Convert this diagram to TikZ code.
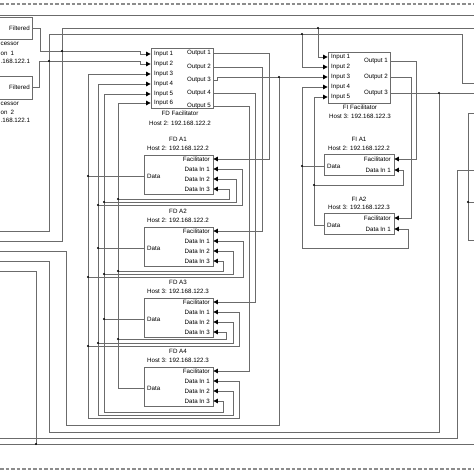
\documentclass[tikz,border=0pt]{standalone}
\usepackage{fontspec}
\setmainfont{Liberation Sans}
\usetikzlibrary{arrows.meta}
\definecolor{wirec}{gray}{0.42}
\definecolor{dashc}{gray}{0.55}
\begin{document}
\begin{tikzpicture}[x=1pt,y=-1pt,
  wire/.style={draw=wirec, line width=0.8pt},
  arr/.style={draw=wirec, line width=0.8pt, -{Triangle[length=4.5pt,width=4.5pt,color=black]}},
  box/.style={draw=wirec, line width=0.8pt, fill=white, inner sep=0pt},
  lbl/.style={font=\fontsize{6.2}{7}\selectfont, inner sep=0pt},
  jdot/.style={circle, fill=black, inner sep=0pt, minimum size=2.2pt},
  dashline/.style={draw=dashc, line width=1.2pt, dash pattern=on 3.5pt off 2pt},
]
\useasboundingbox (0,0) rectangle (474,474);
\fill[white] (0,0) rectangle (474,474);

% dashed borders
\draw[dashline] (0,4) -- (474,4);
\draw[dashline] (0,469) -- (474,469);

% ---------- boxes ----------
\node[box, minimum width=40pt, minimum height=22pt] (p1) at (12,28) {};
\node[box, minimum width=40pt, minimum height=23pt] (p2) at (12,87.5) {};
\node[box, minimum width=62pt, minimum height=60pt] (fd) at (182,78) {};
\node[box, minimum width=69pt, minimum height=39pt] (a1) at (178.5,174.5) {};
\node[box, minimum width=69pt, minimum height=39pt] (a2) at (178.5,246.5) {};
\node[box, minimum width=69pt, minimum height=39pt] (a3) at (178.5,317.5) {};
\node[box, minimum width=69pt, minimum height=39pt] (a4) at (178.5,386.5) {};
\node[box, minimum width=62pt, minimum height=51pt] (fi) at (359,77.5) {};
\node[box, minimum width=70pt, minimum height=21pt] (b1) at (359,164.5) {};
\node[box, minimum width=70pt, minimum height=21pt] (b2) at (359,223.5) {};

% ---------- box texts ----------
\node[lbl, anchor=east] at (30,28) {Filtered};
\node[lbl, anchor=east] at (30,87) {Filtered};
\node[lbl, anchor=west] at (0.5,44) {cessor};
\node[lbl, anchor=west] at (0.5,53) {on\hspace{3pt}1};
\node[lbl, anchor=west] at (0.5,61) {.168.122.1};
\node[lbl, anchor=west] at (0.5,104) {cessor};
\node[lbl, anchor=west] at (0.5,112) {on\hspace{3pt}2};
\node[lbl, anchor=west] at (0.5,120) {.168.122.1};

\foreach \i/\y in {1/54,2/64,3/74,4/84,5/94,6/103}
  \node[lbl, anchor=west] at (154,\y) {Input \i};
\foreach \i/\y in {1/53,2/67,3/80,4/93,5/106}
  \node[lbl, anchor=east] at (211,\y) {Output \i};
\node[lbl] at (180,113) {FD Facilitator};
\node[lbl] at (180,123) {Host 2: 192.168.122.2};

\foreach \nm/\t/\h in {A1/155/2, A2/227/2, A3/298/3, A4/367/3}{
  \node[lbl] at (178,\t-16) {FD \nm};
  \node[lbl] at (178,\t-7) {Host \h: 192.168.122.\h};
  \node[lbl, anchor=east] at (210,\t+4) {Facilitator};
  \node[lbl, anchor=east] at (210,\t+14) {Data In 1};
  \node[lbl, anchor=east] at (210,\t+24) {Data In 2};
  \node[lbl, anchor=east] at (210,\t+34) {Data In 3};
  \node[lbl, anchor=west] at (147,\t+21) {Data};
}

\foreach \i/\y in {1/57,2/67,3/77,4/87,5/97}
  \node[lbl, anchor=west] at (331,\y) {Input \i};
\foreach \i/\y in {1/61,2/77,3/93}
  \node[lbl, anchor=east] at (388,\y) {Output \i};
\node[lbl] at (360,107) {FI Facilitator};
\node[lbl] at (360,116) {Host 3: 192.168.122.3};

\node[lbl] at (359,139) {FI A1};
\node[lbl] at (359,148) {Host 2: 192.168.122.2};
\node[lbl, anchor=east] at (391,159) {Facilitator};
\node[lbl, anchor=east] at (391,170) {Data In 1};
\node[lbl, anchor=west] at (327,166) {Data};
\node[lbl] at (359,199) {FI A2};
\node[lbl] at (359,207) {Host 3: 192.168.122.3};
\node[lbl, anchor=east] at (391,218) {Facilitator};
\node[lbl, anchor=east] at (391,229) {Data In 1};
\node[lbl, anchor=west] at (327,225) {Data};

% ---------- long lines ----------
\draw[wire] (0,15) -- (474,15);
\draw[wire] (0,241) -- (62,241) -- (62,28) -- (474,28);
\draw[wire] (0,231) -- (49,231) -- (49,34) -- (462,34) -- (462,83) -- (474,83);
\draw[arr] (318,28) -- (318,57) -- (fi.west |- 0,57);
\draw[arr] (302,34) -- (302,67) -- (fi.west |- 0,67);

% processors to FD
\draw[arr] (p1.east |- 0,28) -- (40,28) -- (40,51) -- (140,51) -- (140,54) -- (fd.west |- 0,54);
\draw[arr] (p2.east |- 0,87) -- (39,87) -- (39,61) -- (140,61) -- (140,64) -- (fd.west |- 0,64);

% A1 data (x=88)
\draw[wire] (a1.west |- 0,176) -- (88,176);
\draw[arr] (88,418) -- (88,74) -- (fd.west |- 0,74);
\draw[arr] (88,418) -- (239,418) -- (239,381) -- (a4.east |- 0,381);
\draw[arr] (88,277) -- (243,277) -- (243,241) -- (a2.east |- 0,241);
\draw[arr] (88,346) -- (239,346) -- (239,312) -- (a3.east |- 0,312);
% A2 data (x=98)
\draw[wire] (a2.west |- 0,248) -- (98,248);
\draw[arr] (98,415) -- (98,84) -- (fd.west |- 0,84);
\draw[arr] (98,415) -- (233,415) -- (233,391) -- (a4.east |- 0,391);
\draw[arr] (98,205) -- (242,205) -- (242,169) -- (a1.east |- 0,169);
\draw[arr] (98,343) -- (233,343) -- (233,322) -- (a3.east |- 0,322);
% A3 data (x=104)
\draw[wire] (a3.west |- 0,319) -- (104,319);
\draw[arr] (104,412) -- (104,94) -- (fd.west |- 0,94);
\draw[arr] (104,412) -- (223,412) -- (223,401) -- (a4.east |- 0,401);
\draw[arr] (104,202) -- (236,202) -- (236,179) -- (a1.east |- 0,179);
\draw[arr] (104,274) -- (233,274) -- (233,251) -- (a2.east |- 0,251);
% A4 data (x=118)
\draw[arr] (a4.west |- 0,388) -- (118,388) -- (118,103) -- (fd.west |- 0,103);
\draw[arr] (118,199) -- (229,199) -- (229,189) -- (a1.east |- 0,189);
\draw[arr] (118,271) -- (223,271) -- (223,261) -- (a2.east |- 0,261);
\draw[arr] (118,339) -- (226,339) -- (226,332) -- (a3.east |- 0,332);

% FD outputs
\draw[arr] (fd.east |- 0,53) -- (269,53) -- (269,159) -- (a1.east |- 0,159);
\draw[arr] (fd.east |- 0,67) -- (262,67) -- (262,231) -- (a2.east |- 0,231);
\draw[arr] (fd.east |- 0,80) -- (217,80) -- (217,77) -- (fi.west |- 0,77);
\draw[wire] (279,77) -- (279,425) -- (66,425) -- (66,251) -- (0,251);
\draw[arr] (fd.east |- 0,93) -- (255,93) -- (255,302) -- (a3.east |- 0,302);
\draw[arr] (fd.east |- 0,106) -- (249,106) -- (249,371) -- (a4.east |- 0,371);

% FI agents
\draw[wire] (b1.west |- 0,166) -- (302,166);
\draw[arr] (302,248) -- (302,87) -- (fi.west |- 0,87);
\draw[arr] (302,248) -- (408,248) -- (408,229) -- (b2.east |- 0,229);
\draw[arr] (b2.west |- 0,225) -- (314,225) -- (314,97) -- (fi.west |- 0,97);
\draw[arr] (314,185) -- (403,185) -- (403,170) -- (b1.east |- 0,170);

% FI outputs
\draw[arr] (fi.east |- 0,61) -- (416,61) -- (416,159) -- (b1.east |- 0,159);
\draw[arr] (fi.east |- 0,77) -- (411,77) -- (411,218) -- (b2.east |- 0,218);
\draw[wire] (fi.east |- 0,93) -- (474,93);
\draw[wire] (439,93) -- (439,432) -- (49,432) -- (49,261) -- (0,261);

% right side
\draw[wire] (474,113) -- (468,113) -- (468,240) -- (474,240);
\draw[wire] (474,202) -- (468,202);
\draw[wire] (474,170) -- (457,170) -- (457,438) -- (0,438);
\draw[wire] (0,271) -- (36,271) -- (36,444);
\draw[wire] (0,444) -- (474,444);

% junction dots
\foreach \p in {(62,51),(49,61),(302,34),(318,28),(88,176),(88,277),(88,346),
  (98,205),(98,248),(98,343),(104,202),(104,274),(104,319),(118,199),(118,271),
  (118,339),(279,77),(302,166),(314,185),(439,93),(468,202),(36,444)}
  \node[jdot] at \p {};
\end{tikzpicture}
\end{document}
